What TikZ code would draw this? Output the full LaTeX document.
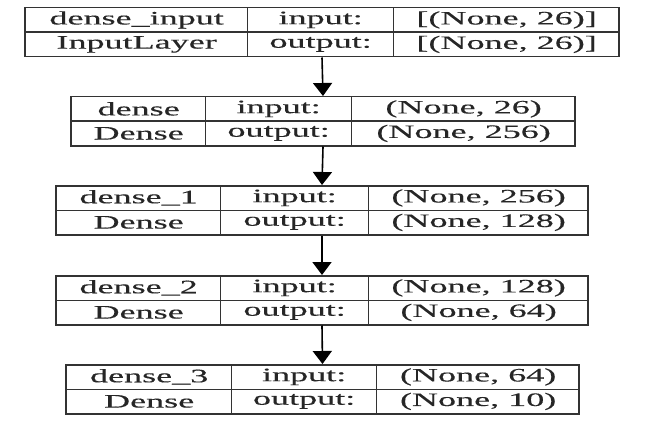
\documentclass[tikz,border=0pt]{standalone}
\usepackage{fontspec}
\setmainfont{Liberation Serif}[FakeStretch=1.9,FakeBold=0.3]
\usetikzlibrary{arrows.meta}
\begin{document}
\begin{tikzpicture}[x=1pt,y=-1pt,
  cell/.style={draw=black!80, line width=1.3pt, inner sep=0pt, anchor=north west,
    minimum height=24.5pt, text=black!85, font=\fontsize{19}{19}\selectfont},
  layerbox/.style={draw=black!80, line width=1.5pt, inner sep=0pt, anchor=north, minimum height=49pt},
  conn/.style={draw=black, line width=1.6pt, -{Triangle[width=19pt,length=13pt]}}]
\useasboundingbox[fill=white] (0,0) rectangle (662,436);
\foreach \n/\a/\b/\c/\d/\y/\ta/\tb/\tc/\td in {
  1/25/247/393/619/7/{dense\_input}/{InputLayer}/{[(None, 26)]}/{[(None, 26)]},
  2/71/205/351/575/96/{dense}/{Dense}/{(None, 26)}/{(None, 256)},
  3/56/220/368/588/185/{dense\_1}/{Dense}/{(None, 256)}/{(None, 128)},
  4/56/220/368/588/275/{dense\_2}/{Dense}/{(None, 128)}/{(None, 64)},
  5/66/231/376/579/364/{dense\_3}/{Dense}/{(None, 64)}/{(None, 10)}}{
  \node[layerbox, minimum width={\d-\a}] (L\n) at ({(\a+\d)/2},\y) {};
  \node[cell, minimum width={\b-\a}] (L\n-na) at (\a,\y) {\ta};
  \node[cell, minimum width={\b-\a}] (L\n-ty) at (\a,\y+24.5) {\tb};
  \node[cell, minimum width={\c-\b}] (L\n-il) at (\b,\y) {input:};
  \node[cell, minimum width={\c-\b}] (L\n-ol) at (\b,\y+24.5) {output:};
  \node[cell, minimum width={\d-\c}] (L\n-iv) at (\c,\y) {\tc};
  \node[cell, minimum width={\d-\c}] (L\n-ov) at (\c,\y+24.5) {\td};
}
\draw[conn] (L1.south) -- (L2.north);
\draw[conn] (L2.south) -- (L3.north);
\draw[conn] (L3.south) -- (L4.north);
\draw[conn] (L4.south) -- (L5.north);
\end{tikzpicture}
\end{document}
